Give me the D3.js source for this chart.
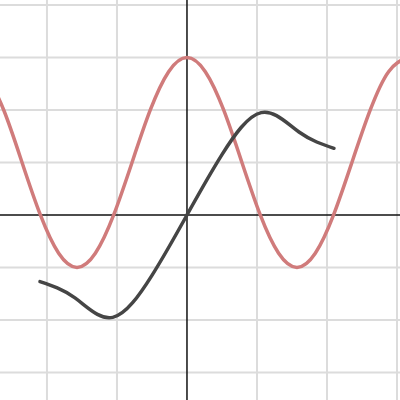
<!DOCTYPE html>
<html>
<head>
<script src="https://cdn.jsdelivr.net/npm/d3@7"></script>
<style>body{margin:0;background:#fff}</style>
</head>
<body>
<svg id="chart"></svg>
<script>
// red curve samples
const redX = [-2.88,-2.618,-2.356,-2.094,-1.833,-1.571,-1.309,-1.047,-0.785,-0.524,-0.262,0,0.262,0.524,0.785,1.047,1.309,1.571,1.833,2.094,2.356,2.618,2.88,3.142]
const redY = [2.73,2,1,0,-0.73,-1,-0.73,0,1,2,2.73,3,2.73,2,1,0,-0.73,-1,-0.73,0,1,2,2.73,3]
// dark curve samples
const darkX = [-2.1,-1.6,-1.06,-0.5,0,0.5,1.06,1.6,2.1]
const darkY = [-1.27,-1.58,-1.95,-1.15,0,1.15,1.95,1.58,1.27]
const gridX = [-2,-1,1,2,3]
const gridY = [-3,-2,-1,1,2,3,4]

const w=400,h=400
const svg=d3.select('#chart').attr('width',w).attr('height',h)
const x=d3.scaleLinear().domain([-2.671,3.043]).range([0,w])
const y=d3.scaleLinear().domain([4.095,-3.524]).range([0,h])

svg.selectAll('.gx').data(gridX).join('line')
  .attr('x1',d=>x(d)).attr('x2',d=>x(d)).attr('y1',0).attr('y2',h)
  .attr('stroke','#dcdcdc').attr('stroke-width',2)
svg.selectAll('.gy').data(gridY).join('line')
  .attr('y1',d=>y(d)).attr('y2',d=>y(d)).attr('x1',0).attr('x2',w)
  .attr('stroke','#dcdcdc').attr('stroke-width',2)

svg.append('line').attr('x1',x(0)).attr('x2',x(0)).attr('y1',0).attr('y2',h).attr('stroke','#111').attr('stroke-width',1.5)
svg.append('line').attr('y1',y(0)).attr('y2',y(0)).attr('x1',0).attr('x2',w).attr('stroke','#111').attr('stroke-width',1.5)

const line=d3.line().x(d=>x(d[0])).y(d=>y(d[1])).curve(d3.curveNatural)

svg.append('path').datum(d3.zip(redX,redY)).attr('d',line)
  .attr('fill','none').attr('stroke','#d07b7b').attr('stroke-width',3.5)
svg.append('path').datum(d3.zip(darkX,darkY)).attr('d',line)
  .attr('fill','none').attr('stroke','#454545').attr('stroke-width',3.5).attr('stroke-linecap','round')
</script>
</body>
</html>
